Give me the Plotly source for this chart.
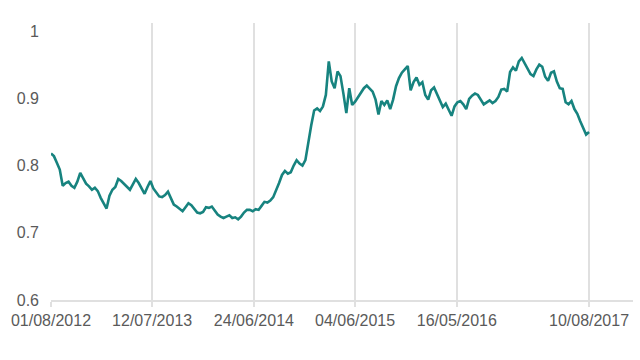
import pandas as pd
import plotly.graph_objects as go

start_date = "2012-08-01"
end_date = "2017-08-10"

values = [
    0.818, 0.814, 0.804, 0.794, 0.770, 0.774, 0.776, 0.770, 0.767, 0.776,
    0.789, 0.781, 0.773, 0.769, 0.764, 0.767, 0.762, 0.752, 0.745, 0.736,
    0.755, 0.764, 0.768, 0.780, 0.777, 0.773, 0.768, 0.764, 0.772, 0.780,
    0.774, 0.766, 0.758, 0.768, 0.777, 0.766, 0.759, 0.754, 0.753, 0.756,
    0.761, 0.752, 0.742, 0.739, 0.736, 0.732, 0.738, 0.744, 0.741, 0.736,
    0.730, 0.729, 0.731, 0.738, 0.737, 0.739, 0.733, 0.727, 0.724, 0.722,
    0.724, 0.726, 0.722, 0.723, 0.720, 0.724, 0.730, 0.734, 0.734, 0.732,
    0.735, 0.734, 0.740, 0.746, 0.745, 0.748, 0.753, 0.763, 0.774, 0.786,
    0.792, 0.788, 0.790, 0.800, 0.808, 0.803,
    0.800, 0.808, 0.835,
    0.860, 0.882, 0.885, 0.881, 0.888, 0.905, 0.955, 0.925, 0.915, 0.940,
    0.933, 0.907, 0.878, 0.915, 0.890, 0.895, 0.902, 0.908, 0.915, 0.919,
    0.914, 0.910, 0.898, 0.876, 0.896, 0.890, 0.897, 0.884, 0.898, 0.918,
    0.930, 0.938, 0.943, 0.948, 0.912, 0.924, 0.931, 0.920, 0.924, 0.905,
    0.898, 0.912, 0.916, 0.906, 0.896, 0.887, 0.892, 0.882, 0.874, 0.888,
    0.894, 0.896, 0.891, 0.884, 0.899, 0.904, 0.907, 0.905, 0.897, 0.891,
    0.894, 0.897, 0.893, 0.896, 0.902, 0.913, 0.914, 0.910, 0.939, 0.946,
    0.941,
    0.955, 0.960, 0.952, 0.945, 0.936, 0.933, 0.943, 0.950, 0.947, 0.932,
    0.926, 0.938, 0.940, 0.925, 0.915, 0.914, 0.894, 0.891, 0.896, 0.884,
    0.877, 0.866, 0.856, 0.846, 0.850,
]

dates = pd.date_range(start_date, end_date, periods=len(values))

tick_dates = ["2012-08-01", "2013-07-12", "2014-06-24", "2015-06-04", "2016-05-16", "2017-08-10"]
tick_labels = ["01/08/2012", "12/07/2013", "24/06/2014", "04/06/2015", "16/05/2016", "10/08/2017"]
y_ticks = [0.6, 0.7, 0.8, 0.9, 1.0]
y_labels = ["0.6", "0.7", "0.8", "0.9", "1"]

fig = go.Figure()
fig.add_trace(go.Scatter(
    x=dates, y=values, mode="lines",
    line=dict(color="#17837f", width=2.6),
    showlegend=False,
))

fig.update_layout(
    width=640, height=360,
    margin=dict(l=51, r=7, t=23, b=60),
    paper_bgcolor="white", plot_bgcolor="white",
    font=dict(family="Liberation Sans, Arial, sans-serif", size=16, color="#5a5a5a"),
)
fig.update_xaxes(
    type="date",
    range=["2012-08-01", "2018-01-07"],
    tickmode="array", tickvals=tick_dates, ticktext=tick_labels,
    showgrid=True, gridcolor="#e0e0e0", gridwidth=2,
    showline=True, linecolor="#e0e0e0", linewidth=2,
    ticks="outside", ticklen=5, tickcolor="#e0e0e0", tickwidth=2,
    zeroline=False,
)
fig.update_yaxes(
    range=[0.6, 1.012],
    tickmode="array", tickvals=y_ticks, ticktext=y_labels,
    showgrid=False, zeroline=False, showline=False,
    ticks="", ticklabelstandoff=11,
)

fig.write_html("out.html")
